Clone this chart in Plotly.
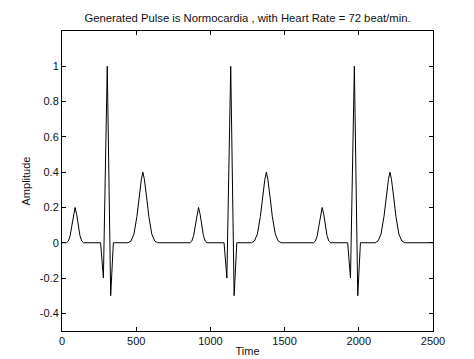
import plotly.graph_objects as go

# R-peak times of the three beats (samples)
r_peak_times = [305, 1137, 1970]

# One-beat template: offsets relative to R peak, amplitudes
p_offsets = [-275, -262, -250, -240, -228, -217, -206, -194, -184, -172, -160]
p_values  = [0.0, 0.01, 0.04, 0.09, 0.16, 0.2, 0.16, 0.09, 0.04, 0.01, 0.0]
qrs_offsets = [-45, -26, 0, 23, 41]
qrs_values  = [0.0, -0.2, 1.0, -0.3, 0.0]
t_offsets = [140, 160, 180, 200, 215, 230, 240, 250, 265, 280, 300, 320, 340]
t_values  = [0.0, 0.01, 0.05, 0.15, 0.26, 0.36, 0.4, 0.36, 0.26, 0.15, 0.05, 0.01, 0.0]

x_start, x_end = 0, 2500
x_ticks = [0, 500, 1000, 1500, 2000, 2500]
y_ticks = [-0.4, -0.2, 0, 0.2, 0.4, 0.6, 0.8, 1]
y_tick_labels = ["-0.4", "-0.2", "0", "0.2", "0.4", "0.6", "0.8", "1"]

times, amps = [x_start], [0.0]
for r in r_peak_times:
    for offs, vals in ((p_offsets, p_values), (qrs_offsets, qrs_values), (t_offsets, t_values)):
        for o, v in zip(offs, vals):
            times.append(r + o)
            amps.append(v)
times.append(x_end)
amps.append(0.0)

fig = go.Figure(go.Scatter(x=times, y=amps, mode="lines",
                           line=dict(color="black", width=1), hoverinfo="skip"))

font = dict(family="Liberation Sans, Arial, sans-serif", size=11, color="#111")
axis_common = dict(showline=True, linecolor="black", linewidth=1, mirror="ticks",
                   ticks="inside", ticklen=4, tickcolor="black", showgrid=False,
                   zeroline=False, tickfont=font, automargin=False)

fig.update_layout(
    width=474, height=359,
    margin=dict(l=62, r=41, t=31, b=28, autoexpand=False),
    paper_bgcolor="white", plot_bgcolor="white",
    showlegend=False,
    font=font,
    title=dict(text="Generated Pulse is Normocardia , with Heart Rate = 72 beat/min.",
               x=(62 + 433) / 2 / 474, xanchor="center",
               yref="container", y=1 - 18 / 359, yanchor="middle",
               font=dict(family="Liberation Sans, Arial, sans-serif", size=11.3, color="#111")),
    xaxis=dict(range=[x_start, x_end], tickvals=x_ticks,
               title=dict(text="Time", standoff=1, font=font), **axis_common),
    yaxis=dict(range=[-0.5, 1.2], tickvals=y_ticks, ticktext=y_tick_labels,
               title=dict(text="Amplitude", standoff=6, font=font), **axis_common),
)

fig.write_html("out.html", config={"displayModeBar": False, "staticPlot": True},
               post_script="document.body.style.margin='0';document.body.style.overflow='hidden';")
